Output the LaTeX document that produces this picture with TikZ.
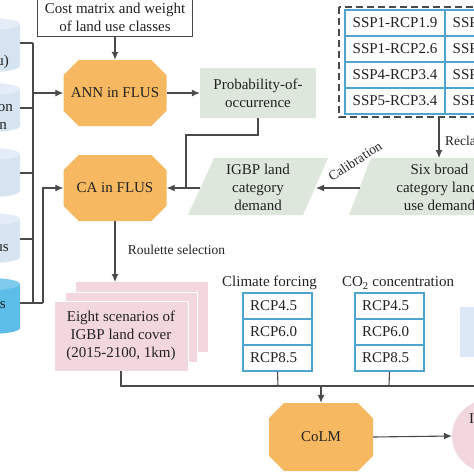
\documentclass[tikz,border=0pt]{standalone}
\usepackage{fontspec}
\setmainfont{Liberation Serif}
\usetikzlibrary{shapes.misc,arrows.meta}
\definecolor{orangeF}{HTML}{F6B962}
\definecolor{greenF}{HTML}{DEE7DC}
\definecolor{pinkF}{HTML}{F3D7DE}
\definecolor{cylL}{HTML}{D6E4F1}
\definecolor{cylLtop}{HTML}{E4EDF7}
\definecolor{cylD}{HTML}{5DBDE9}
\definecolor{cylDtop}{HTML}{7FCBEE}
\definecolor{tblB}{HTML}{4FA3CF}
\definecolor{linec}{HTML}{4A4A4A}
\definecolor{txtc}{HTML}{222222}
\definecolor{rblue}{HTML}{DCE8F5}
\begin{document}
\begin{tikzpicture}[x=1pt,y=-1pt,
  font=\fontsize{15}{18}\selectfont, text=txtc,
  conn/.style={draw=linec, line width=1.1pt},
  arr/.style={conn,-{Latex[length=8pt,width=7pt]}},
  flus/.style={chamfered rectangle, chamfered rectangle sep=10pt, fill=orangeF,
    minimum width=103pt, minimum height=66pt, inner sep=0pt},
  cell/.style={draw=tblB, line width=1.2pt, minimum height=26pt, inner sep=0pt},
  lbl/.style={font=\fontsize{13.5}{16}\selectfont, inner sep=0pt},
  plain/.style={inner sep=0pt, align=center}]
\useasboundingbox (0,0) rectangle (474,474);
\clip (0,0) rectangle (474,474);

% cylinders
\foreach \t/\b/\c/\ct in {18/72/cylL/cylLtop,83/132/cylL/cylLtop,148/197/cylL/cylLtop,213/263/cylL/cylLtop,278/334/cylD/cylDtop}{
  \fill[\c] (-40,\t+6) rectangle (20,\b-6);
  \fill[\c] (-10,\b-6) ellipse [x radius=30, y radius=6];
  \fill[\ct] (-10,\t+6) ellipse [x radius=30, y radius=6];
}
\node[plain, anchor=east] (t1) at (9,62) {u)};
\node[plain, anchor=east] (t2) at (13,108) {on};
\node[plain, anchor=east] (t2b) at (7,126) {n};
\node[plain, anchor=east] (t4) at (9,248) {us};
\node[plain, anchor=east] (t5) at (6,305) {s};

\coordinate (c1) at (20,43);
\coordinate (c2) at (20,108);
\coordinate (c3) at (20,173);
\coordinate (c4) at (20,239);
\coordinate (c5) at (20,303);
\coordinate (b1) at (33,43);
\coordinate (b2) at (33,108);
\coordinate (b3) at (33,173);
\coordinate (b4) at (33,239);
\coordinate (b5) at (33,303);
\coordinate (bA) at (33,93);
\coordinate (b5x) at (43,303);

% main nodes
\node[draw=linec, line width=1pt, minimum width=155pt, minimum height=38pt, align=center, inner sep=0pt] (cost) at (115,17) {Cost matrix and weight\\of land use classes};
\node[flus] (ann) at (115,93) {ANN in FLUS};
\node[flus] (ca) at (115,188) {CA in FLUS};
\node[flus, minimum width=104pt, minimum height=68pt] (colm) at (321,437) {CoLM};
\node[fill=greenF, minimum width=116pt, minimum height=50pt, align=center, inner sep=0pt] (prob) at (258,93) {Probability-of-\\occurrence};

% parallelograms
\fill[greenF] (188,215) -- (214,158) -- (328,158) -- (303,215) -- cycle;
\node[plain] (igbp) at (258,187) {IGBP land\\category\\demand};
\coordinate (igbpW) at (200,188);
\coordinate (igbpE) at (316,188);
\fill[greenF] (349,215) -- (371,158) -- (520,158) -- (500,215) -- cycle;
\node[plain] (six) at (439.5,187) {Six broad\\category land-\\use demand};
\coordinate (sixW) at (360,188);
\coordinate (sixN) at (439,158);

% SSP table
\draw[linec, line width=1.3pt, dash pattern=on 7pt off 4pt] (339,7) rectangle (560,117);
\foreach \r/\a/\b [count=\i] in {23/SSP1-RCP1.9/SSP2-RCP4.5,49/SSP1-RCP2.6/SSP4-RCP6.0,75/SSP4-RCP3.4/SSP3-RCP7.0,101/SSP5-RCP3.4/SSP5-RCP8.5}{
  \node[cell, minimum width=100pt] (sa\i) at (395,\r) {\a};
  \node[cell, minimum width=100pt] (sb\i) at (495,\r) {\b};
}
\coordinate (sspS) at (439,117);

% eight scenarios stacked
\fill[pinkF] (76,282) rectangle (208,352);
\draw[white, line width=0.8pt, fill=pinkF] (65,292) rectangle (197,362);
\draw[white, line width=0.8pt, fill=pinkF] (54,301) rectangle (188,371);
\node[plain] (eight) at (121,336) {Eight scenarios of\\IGBP land cover\\(2015-2100, 1km)};
\coordinate (eightS) at (121,371);
\coordinate (eightTop) at (115,282);

% climate tables
\node[plain] (clab) at (269.5,283) {Climate forcing};
\node[plain] (colab) at (398,283) {CO\textsubscript{2} concentration};
\foreach \r/\v [count=\i] in {306/RCP4.5,332/RCP6.0,358/RCP8.5}{
  \node[cell, minimum width=69pt] (cf\i) at (277.5,\r) {\makebox[55pt][l]{\v}};
  \node[cell, minimum width=69pt] (co\i) at (389.5,\r) {\makebox[55pt][l]{\v}};
}
\fill[rblue] (460,307) rectangle (480,357);

% output circle
\node[circle, fill=pinkF, minimum size=72pt, inner sep=0pt] (out) at (488,436) {};
\node[anchor=base west, inner sep=0pt] (outt) at (469,423) {I};

% bus bottom
\coordinate (busL) at (121,386);
\coordinate (busR) at (480,386);
\coordinate (bus1) at (278,386);
\coordinate (bus2) at (389,386);
\coordinate (busC) at (321,386);

% connectors left
\foreach \i in {1,...,5}{ \draw[conn] (c\i) -- (b\i); }
\draw[conn] (b1) -- (b5);
\draw[arr] (bA) -- (ann.west);
\draw[conn] (b5) -- (b5x);
\draw[arr] (b5x) |- (ca.west);

\draw[arr] (cost.south) -- (ann.north);
\draw[arr] (ann.east) -- (prob.west);
\coordinate (pbend) at (186,135);
\coordinate (jn) at (186,188);
\draw[conn] (prob.south) |- (pbend) -- (jn);
\draw[arr] (igbpW) -- (ca.east);
\draw[arr] (sixW) -- (igbpE);
\node[lbl, rotate=33] (calib) at (355,161) {Calibration};
\draw[arr] (sspS) -- (sixN);
\node[lbl, anchor=west] (recl) at (445,141) {Reclassification};
\draw[arr] (ca.south) -- (eightTop);
\node[lbl] (roul) at (176.5,250) {Roulette selection};

\draw[conn] (eightS) -- (busL) -- (busR);
\draw[conn] (cf3.south) -- (bus1);
\draw[conn] (co3.south) -- (bus2);
\draw[arr] (busC) -- (colm.north);
\draw[arr] (colm.east) -- (out.west);
\end{tikzpicture}
\end{document}
